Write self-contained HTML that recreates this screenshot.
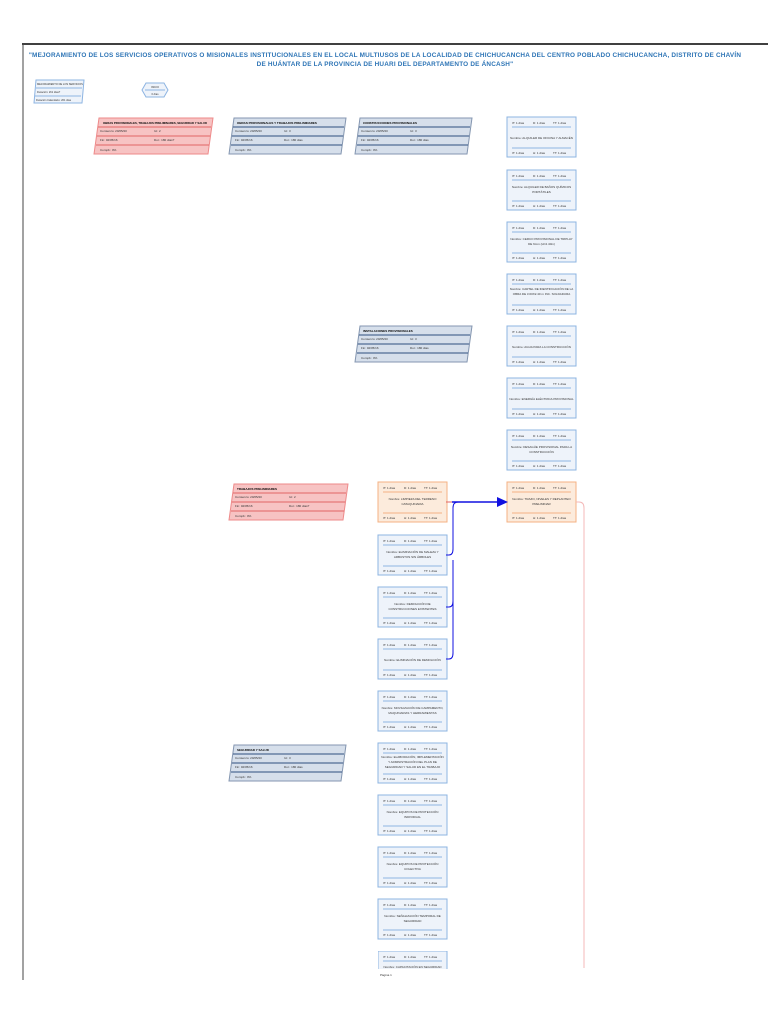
<!DOCTYPE html>
<html><head><meta charset="utf-8"><style>
html,body{margin:0;padding:0;background:#fff;}
svg{display:block;font-family:"Liberation Sans",sans-serif;}
.t{font-size:3px;fill:#333;}
.tb{font-size:3px;fill:#000;font-weight:bold;}
</style></head><body>
<svg width="768" height="1024" viewBox="0 0 768 1024" xmlns="http://www.w3.org/2000/svg">
<defs>
<g id="tb">
<rect x="0" y="0" width="69" height="40" fill="#eef3fa" stroke="#8db4e2" stroke-width="1"/>
<line x1="5" y1="10" x2="64" y2="10" stroke="#8db4e2" stroke-width="1"/>
<line x1="5" y1="31" x2="64" y2="31" stroke="#8db4e2" stroke-width="1"/>
<text class="t" x="5" y="7">IT: 1 días</text><text class="t" x="26" y="7">D: 1 días</text><text class="t" x="46" y="7">TT: 1 días</text>
<text class="t" x="5" y="37">IT: 1 días</text><text class="t" x="26" y="37">H: 1 días</text><text class="t" x="46" y="37">TT: 1 días</text>
</g>
<g id="to">
<rect x="0" y="0" width="69" height="40" fill="#fcebdc" stroke="#f4b183" stroke-width="1"/>
<line x1="5" y1="10" x2="64" y2="10" stroke="#f4b183" stroke-width="1"/>
<line x1="5" y1="31" x2="64" y2="31" stroke="#f4b183" stroke-width="1"/>
<text class="t" x="5" y="7">IT: 1 días</text><text class="t" x="26" y="7">D: 1 días</text><text class="t" x="46" y="7">TT: 1 días</text>
<text class="t" x="5" y="37">IT: 1 días</text><text class="t" x="26" y="37">H: 1 días</text><text class="t" x="46" y="37">TT: 1 días</text>
</g>
<g id="pp">
<polygon points="5,0 119,0 114,36 0,36" fill="#f7c3c3" stroke="#ee8a8a"/>
<line x1="4" y1="9" x2="117" y2="9" stroke="#e06666" stroke-width="1"/>
<line x1="3" y1="18" x2="116" y2="18" stroke="#e06666" stroke-width="1"/>
<line x1="2" y1="27" x2="115" y2="27" stroke="#e06666" stroke-width="1"/>
<text class="t" x="6" y="14">Comienzo: 20/05/20</text><text class="t" x="60" y="14">Id.: 2</text>
<text class="t" x="6" y="23">Fin: 02/05/16</text><text class="t" x="60" y="23">Dur.: 180 días?</text>
<text class="t" x="6" y="33">Complt.: 0%</text>
</g>
<g id="pb">
<polygon points="5,0 117,0 112,36 0,36" fill="#d6dfeb" stroke="#8496b0"/>
<line x1="4" y1="9" x2="115" y2="9" stroke="#2f4f7f" stroke-width="1"/>
<line x1="3" y1="18" x2="114" y2="18" stroke="#2f4f7f" stroke-width="1"/>
<line x1="2" y1="27" x2="113" y2="27" stroke="#2f4f7f" stroke-width="1"/>
<text class="t" x="6" y="14">Comienzo: 20/05/20</text><text class="t" x="55" y="14">Id.: 3</text>
<text class="t" x="6" y="23">Fin: 02/05/16</text><text class="t" x="55" y="23">Dur.: 180 días</text>
<text class="t" x="6" y="33">Complt.: 0%</text>
</g>
</defs>

<line x1="22" y1="44" x2="768" y2="44" stroke="#000" stroke-width="1.5"/>
<line x1="23" y1="44" x2="23" y2="980" stroke="#444" stroke-width="1"/>
<text x="385" y="57" text-anchor="middle" style="font-size:6.4px;fill:#2e75b6;font-weight:bold;letter-spacing:0.2px">"MEJORAMIENTO DE LOS SERVICIOS OPERATIVOS O MISIONALES INSTITUCIONALES EN EL LOCAL MULTIUSOS DE LA LOCALIDAD DE CHICHUCANCHA DEL CENTRO POBLADO CHICHUCANCHA, DISTRITO DE CHAVÍN</text>
<text x="385" y="66" text-anchor="middle" style="font-size:6.4px;fill:#2e75b6;font-weight:bold;letter-spacing:0.2px">DE HUÁNTAR DE LA PROVINCIA DE HUARI DEL DEPARTAMENTO DE ÁNCASH"</text>

<polygon points="36,80 84,80 82,103 34,103" fill="#eef3fa" stroke="#8db4e2"/>
<line x1="36" y1="88" x2="82" y2="88" stroke="#8db4e2"/><line x1="35" y1="96" x2="81" y2="96" stroke="#8db4e2"/>
<text class="t" x="37" y="85" style="font-size:2.6px">MEJORAMIENTO DE LOS SERVICIOS</text>
<text class="t" x="37" y="93" style="font-size:2.6px">Duración: 261 días?</text>
<text class="t" x="36" y="101" style="font-size:2.6px">Duración Calendario: 261 días</text>

<polygon points="146,83 164,83 168,90 164,97 146,97 142,90" fill="#eef3fa" stroke="#8db4e2"/>
<line x1="145" y1="90" x2="165" y2="90" stroke="#8db4e2"/>
<text class="t" x="155" y="88" text-anchor="middle" style="font-size:2.6px">INICIO</text>
<text class="t" x="155" y="95" text-anchor="middle" style="font-size:2.6px">0 días</text>

<g transform="translate(94,118)"><use href="#pp"/><text class="tb" x="9" y="6" style="font-size:2.8px">OBRAS PROVISIONALES, TRABAJOS PRELIMINARES, SEGURIDAD Y SALUD</text></g>
<g transform="translate(229,118)"><use href="#pb"/><text class="tb" x="8" y="6">OBRAS PROVISIONALES Y TRABAJOS PRELIMINARES</text></g>
<g transform="translate(355,118)"><use href="#pb"/><text class="tb" x="8" y="6">CONSTRUCCIONES PROVISIONALES</text></g>
<g transform="translate(355,326)"><use href="#pb"/><text class="tb" x="8" y="6">INSTALACIONES PROVISIONALES</text></g>
<g transform="translate(229,484)"><use href="#pp"/><text class="tb" x="8" y="6">TRABAJOS PRELIMINARES</text></g>
<g transform="translate(229,745)"><use href="#pb"/><text class="tb" x="8" y="6">SEGURIDAD Y SALUD</text></g>

<g transform="translate(507,117)"><use href="#tb"/><text class="t" x="34.5" y="22" text-anchor="middle">Nombre: ALQUILER DE OFICINA Y ALMACÉN</text></g>
<g transform="translate(507,170)"><use href="#tb"/><text class="t" x="34.5" y="18" text-anchor="middle">Nombre: ALQUILER DE BAÑOS QUÍMICOS</text><text class="t" x="34.5" y="23" text-anchor="middle">PORTÁTILES</text></g>
<g transform="translate(507,222)"><use href="#tb"/><text class="t" x="34.5" y="18" text-anchor="middle">Nombre: CERCO PROVISIONAL DE TRIPLAY</text><text class="t" x="34.5" y="23" text-anchor="middle">DE 6mm (H=2.40m)</text></g>
<g transform="translate(507,274)"><use href="#tb"/><text class="t" x="34.5" y="16" text-anchor="middle">Nombre: CARTEL DE IDENTIFICACIÓN DE LA</text><text class="t" x="34.5" y="21" text-anchor="middle">OBRA DE 3.60X2.40 m INC. SOLDADURA</text></g>
<g transform="translate(507,326)"><use href="#tb"/><text class="t" x="34.5" y="22" text-anchor="middle">Nombre: AGUA PARA LA CONSTRUCCIÓN</text></g>
<g transform="translate(507,378)"><use href="#tb"/><text class="t" x="34.5" y="22" text-anchor="middle">Nombre: ENERGÍA ELÉCTRICA PROVISIONAL</text></g>
<g transform="translate(507,430)"><use href="#tb"/><text class="t" x="34.5" y="18" text-anchor="middle">Nombre: DESAGÜE PROVISIONAL PARA LA</text><text class="t" x="34.5" y="23" text-anchor="middle">CONSTRUCCIÓN</text></g>
<g transform="translate(507,482)"><use href="#to"/><text class="t" x="34.5" y="18" text-anchor="middle">Nombre: TRAZO, NIVELES Y REPLANTEO</text><text class="t" x="34.5" y="23" text-anchor="middle">PRELIMINAR</text></g>

<g transform="translate(378,482)"><use href="#to"/><text class="t" x="34.5" y="18" text-anchor="middle">Nombre: LIMPIEZA DEL TERRENO</text><text class="t" x="34.5" y="23" text-anchor="middle">C/MAQUINARIA</text></g>
<g transform="translate(378,535)"><use href="#tb"/><text class="t" x="34.5" y="18" text-anchor="middle">Nombre: ELIMINACIÓN DE MALEZA Y</text><text class="t" x="34.5" y="23" text-anchor="middle">ARBUSTOS SIN ÁRBOLES</text></g>
<g transform="translate(378,587)"><use href="#tb"/><text class="t" x="34.5" y="18" text-anchor="middle">Nombre: DEMOLICIÓN DE</text><text class="t" x="34.5" y="23" text-anchor="middle">CONSTRUCCIONES EXISTENTES</text></g>
<g transform="translate(378,639)"><use href="#tb"/><text class="t" x="34.5" y="22" text-anchor="middle">Nombre: ELIMINACIÓN DE DEMOLICIÓN</text></g>
<g transform="translate(378,691)"><use href="#tb"/><text class="t" x="34.5" y="18" text-anchor="middle">Nombre: MOVILIZACIÓN DE CAMPAMENTO,</text><text class="t" x="34.5" y="23" text-anchor="middle">MAQUINARIAS Y HERRAMIENTAS</text></g>
<g transform="translate(378,743)"><use href="#tb"/><text class="t" x="34.5" y="15" text-anchor="middle">Nombre: ELABORACIÓN, IMPLEMENTACIÓN</text><text class="t" x="34.5" y="20" text-anchor="middle">Y ADMINISTRACIÓN DEL PLAN DE</text><text class="t" x="34.5" y="25" text-anchor="middle">SEGURIDAD Y SALUD EN EL TRABAJO</text></g>
<g transform="translate(378,795)"><use href="#tb"/><text class="t" x="34.5" y="18" text-anchor="middle">Nombre: EQUIPOS DE PROTECCIÓN</text><text class="t" x="34.5" y="23" text-anchor="middle">INDIVIDUAL</text></g>
<g transform="translate(378,847)"><use href="#tb"/><text class="t" x="34.5" y="18" text-anchor="middle">Nombre: EQUIPOS DE PROTECCIÓN</text><text class="t" x="34.5" y="23" text-anchor="middle">COLECTIVA</text></g>
<g transform="translate(378,899)"><use href="#tb"/><text class="t" x="34.5" y="18" text-anchor="middle">Nombre: SEÑALIZACIÓN TEMPORAL DE</text><text class="t" x="34.5" y="23" text-anchor="middle">SEGURIDAD</text></g>
<svg x="378" y="951" width="70" height="18" overflow="hidden"><use href="#tb"/><text class="t" x="34.5" y="17" text-anchor="middle">Nombre: CAPACITACIÓN EN SEGURIDAD</text></svg>

<path d="M446,502 H452" stroke="#e06666" fill="none"/>
<path d="M452,502 H498" stroke="#1010e0" stroke-width="1.6" fill="none"/>
<polygon points="497,497 508,502 497,507" fill="#1010e0"/>
<path d="M446,555 H449 Q453,555 453,549 V508 Q453,502 458,502" stroke="#1010e0" stroke-width="1" fill="none"/>
<path d="M446,607 H449 Q453,607 453,601 V560" stroke="#1010e0" stroke-width="1" fill="none"/>
<path d="M446,659 H449 Q453,659 453,653 V600" stroke="#1010e0" stroke-width="1" fill="none"/>
<path d="M576,502 H579 Q584,502 584,508 V968" stroke="#f4b8b8" stroke-width="1" fill="none"/>

<text class="t" x="380" y="976" style="font-size:3px">Página 1</text>
</svg>
</body></html>
